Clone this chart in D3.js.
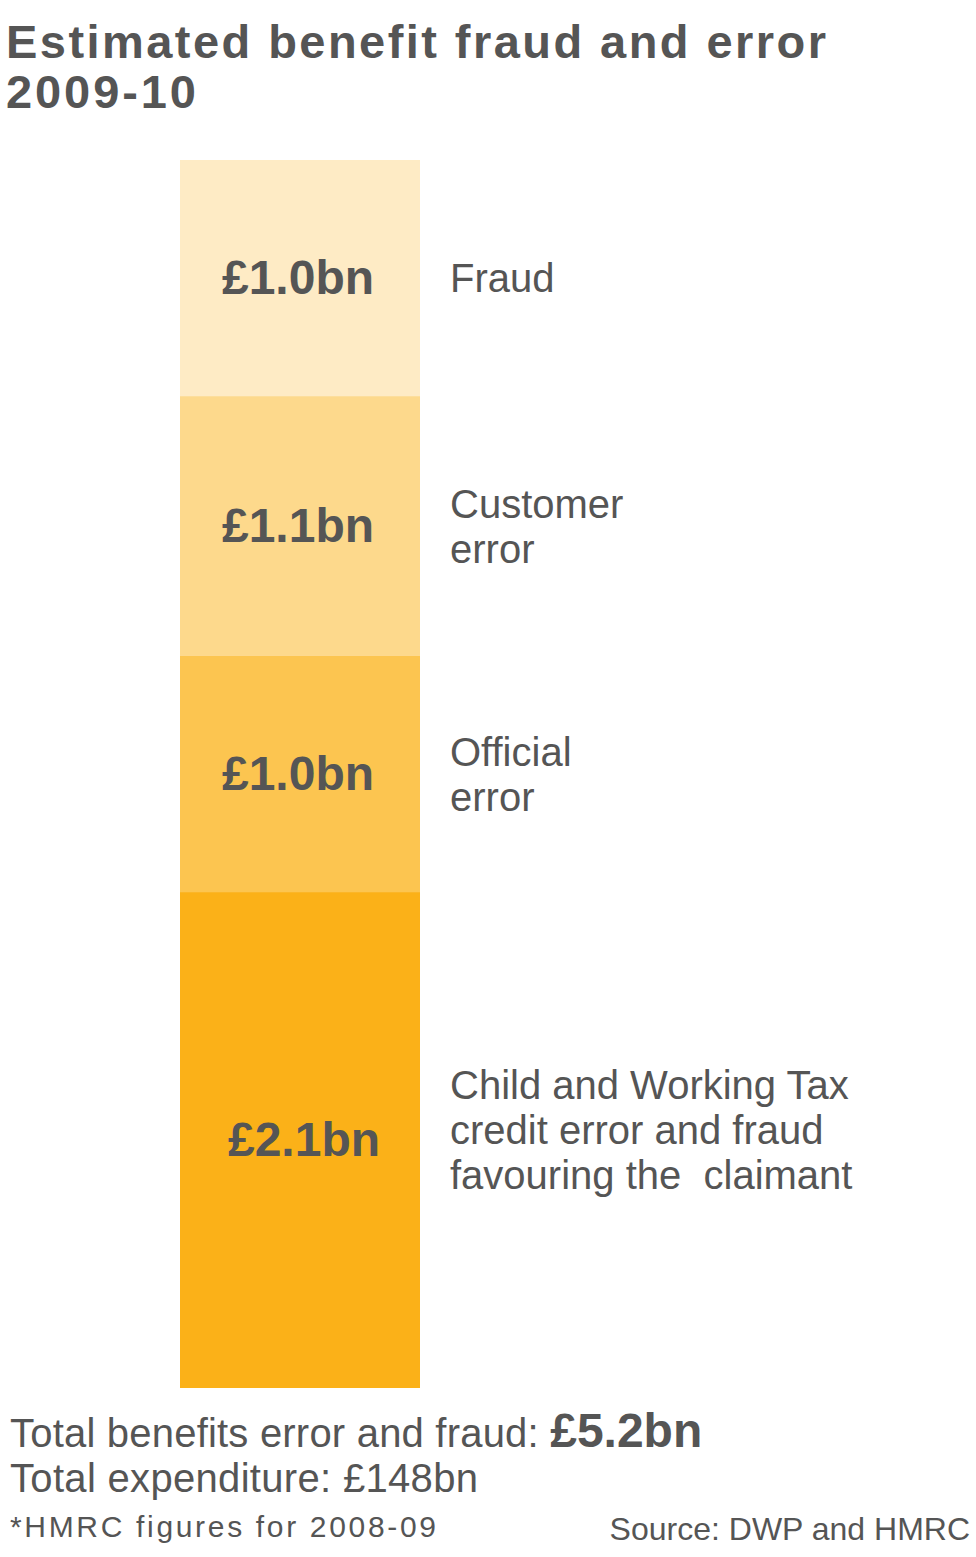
<!DOCTYPE html>
<html><head><meta charset="utf-8">
<script src="https://cdn.jsdelivr.net/npm/d3@7"></script>
<style>body{margin:0;background:#fff} text{white-space:pre}</style>
</head><body>
<script>
const categories = ["Fraud", "Customer|error", "Official|error", "Child and Working Tax|credit error and fraud|favouring the  claimant"];
const values = [1.0, 1.1, 1.0, 2.1];
const valueLabels = ["£1.0bn", "£1.1bn", "£1.0bn", "£2.1bn"];
const colors = ["#feebc5", "#fdd98c", "#fcc550", "#fbb118"];

const W = 976, H = 1557;
const svg = d3.select("body").append("svg").attr("width", W).attr("height", H)
  .style("font-family", "Arial, 'Liberation Sans', sans-serif");
const ink = "#555";

svg.append("text").attr("x", 6).attr("y", 58).attr("fill", ink).attr("textLength", 820)
  .attr("font-size", 47).attr("font-weight", "bold").text("Estimated benefit fraud and error");
svg.append("text").attr("x", 6).attr("y", 108).attr("fill", ink).attr("textLength", 190)
  .attr("font-size", 47).attr("font-weight", "bold").text("2009-10");

const total = d3.sum(values);
const y = d3.scaleLinear().domain([0, total]).range([160, 1388]);
const starts = d3.cumsum([0, ...values]);

const g = svg.selectAll("g.seg").data(values).enter().append("g");
g.append("rect").attr("x", 180).attr("width", 240)
  .attr("y", (d, i) => y(starts[i])).attr("height", d => y(d) - y(0))
  .attr("fill", (d, i) => colors[i]);
g.append("text").attr("x", (d, i) => i === 3 ? 304 : 298)
  .attr("y", (d, i) => (y(starts[i]) + y(starts[i] + d)) / 2 + 16)
  .attr("text-anchor", "middle").attr("font-size", 48).attr("font-weight", "bold")
  .attr("fill", ink).text((d, i) => valueLabels[i]);
g.each(function(d, i) {
  const lines = categories[i].split("|");
  const mid = (y(starts[i]) + y(starts[i] + d)) / 2;
  const t = d3.select(this).append("text").attr("x", 450).attr("font-size", 40).attr("fill", ink);
  lines.forEach((l, j) => t.append("tspan").attr("x", 450)
    .attr("y", mid + 14 + (j - (lines.length - 1) / 2) * 45 - (i === 3 ? 10 : 0)).text(l));
});

const f1 = svg.append("text").attr("x", 10).attr("y", 1447).attr("fill", ink).attr("font-size", 40);
f1.append("tspan").attr("textLength", 540).text("Total benefits error and fraud: ");
f1.append("tspan").attr("font-weight", "bold").attr("font-size", 48).text("£5.2bn");
svg.append("text").attr("x", 10).attr("y", 1492).attr("fill", ink).attr("font-size", 40).attr("textLength", 468).text("Total expenditure: £148bn");
svg.append("text").attr("x", 10).attr("y", 1537).attr("fill", ink).attr("font-size", 30).attr("textLength", 426).text("*HMRC figures for 2008-09");
svg.append("text").attr("x", 970).attr("y", 1540).attr("text-anchor", "end").attr("fill", ink).attr("font-size", 32).text("Source: DWP and HMRC");
</script>
</body></html>
